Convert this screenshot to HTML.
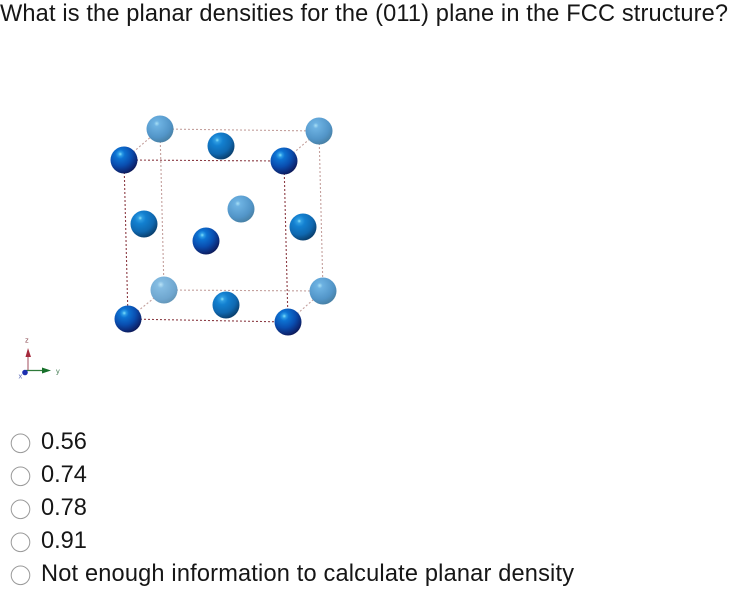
<!DOCTYPE html>
<html>
<head>
<meta charset="utf-8">
<style>
html,body{margin:0;padding:0;background:#fff;width:733px;height:590px;overflow:hidden}
svg{display:block}
text{font-family:"Liberation Sans",Arial,sans-serif;fill:#161616}
</style>
</head>
<body>
<svg width="733" height="590" viewBox="0 0 733 590" xmlns="http://www.w3.org/2000/svg">
<defs>
<radialGradient id="d" cx="0.36" cy="0.3" r="0.85" fx="0.36" fy="0.28">
<stop offset="0" stop-color="#7fe0fa"/><stop offset="0.09" stop-color="#2a9ae6"/><stop offset="0.2" stop-color="#0d72d2"/><stop offset="0.5" stop-color="#0a4eb0"/><stop offset="0.75" stop-color="#0c2a78"/><stop offset="1" stop-color="#0e0630"/>
</radialGradient>
<radialGradient id="m" cx="0.36" cy="0.28" r="0.85">
<stop offset="0" stop-color="#86e0f8"/><stop offset="0.09" stop-color="#2f9de2"/><stop offset="0.25" stop-color="#1380d0"/><stop offset="0.6" stop-color="#0f68b0"/><stop offset="0.85" stop-color="#0a4272"/><stop offset="1" stop-color="#0a3050"/>
</radialGradient>
<radialGradient id="l" cx="0.38" cy="0.3" r="0.85">
<stop offset="0" stop-color="#a8e0f6"/><stop offset="0.12" stop-color="#6db2e2"/><stop offset="0.6" stop-color="#5295c8"/><stop offset="1" stop-color="#41738f"/>
</radialGradient>
<radialGradient id="p" cx="0.38" cy="0.3" r="0.85">
<stop offset="0" stop-color="#b8e2f6"/><stop offset="0.15" stop-color="#84bce2"/><stop offset="0.65" stop-color="#6fa6cf"/><stop offset="1" stop-color="#5b8aa6"/>
</radialGradient>
</defs>

<text x="0" y="21" font-size="23.6" textLength="728" lengthAdjust="spacing">What is the planar densities for the (011) plane in the FCC structure?</text>

<g fill="none" stroke-dasharray="2 2" stroke-width="1.100">
<g stroke="#c4a09d">
<path d="M160 129L319 131M160 129L164 290M319 131L323 291M164 290L323 291"/>
<path d="M124 160L160 129M284 161L319 131M128 319L164 290M288 322L323 291"/>
</g>
<g stroke="#8c3c44">
<path d="M124 160L284 161M124 160L128 319M284 161L288 322M128 319L288 322"/>
</g>
</g>

<circle cx="160" cy="129" r="13.500" fill="url(#l)"/>
<circle cx="319" cy="131" r="13.500" fill="url(#l)"/>
<circle cx="164" cy="290" r="13.500" fill="url(#p)"/>
<circle cx="323" cy="291" r="13.500" fill="url(#l)"/>
<circle cx="241" cy="209" r="13.500" fill="url(#l)"/>
<circle cx="221" cy="146" r="13.500" fill="url(#m)"/>
<circle cx="144" cy="224" r="13.500" fill="url(#m)"/>
<circle cx="303" cy="227" r="13.500" fill="url(#m)"/>
<circle cx="226" cy="305" r="13.500" fill="url(#m)"/>
<circle cx="206" cy="241" r="13.500" fill="url(#d)"/>
<circle cx="124" cy="160" r="13.500" fill="url(#d)"/>
<circle cx="284" cy="161" r="13.500" fill="url(#d)"/>
<circle cx="128" cy="319" r="13.500" fill="url(#d)"/>
<circle cx="288" cy="322" r="13.500" fill="url(#d)"/>

<path d="M28 371V356" stroke="#b06a78" stroke-width="1.200"/>
<path d="M28 348L25.500 357H31Z" fill="#a52a3c"/>
<path d="M26 370.500H43" stroke="#2f7a3a" stroke-width="1.200"/>
<path d="M51 370.500L42 367.500V373.500Z" fill="#17702a"/>
<circle cx="25" cy="372.500" r="2.800" fill="#1c2fb0"/>
<text x="25" y="342.500" font-size="7.500" style="fill:#8a4a50">z</text>
<text x="56" y="373.500" font-size="7.500" style="fill:#4a8058">y</text>
<text x="18.500" y="378.500" font-size="7.500" style="fill:#6070b8">x</text>

<g fill="#fff" stroke="#9a9a9a" stroke-width="1">
<circle cx="20.500" cy="443.300" r="9.300"/>
<circle cx="20.500" cy="476.300" r="9.300"/>
<circle cx="20.500" cy="509.300" r="9.300"/>
<circle cx="20.500" cy="542.300" r="9.300"/>
<circle cx="20.500" cy="575.300" r="9.300"/>
</g>
<text x="41" y="449" font-size="23.600">0.56</text>
<text x="41" y="482" font-size="23.600">0.74</text>
<text x="41" y="515" font-size="23.600">0.78</text>
<text x="41" y="548" font-size="23.600">0.91</text>
<text x="41" y="581" font-size="23.600" textLength="533" lengthAdjust="spacing">Not enough information to calculate planar density</text>
</svg>
</body>
</html>
